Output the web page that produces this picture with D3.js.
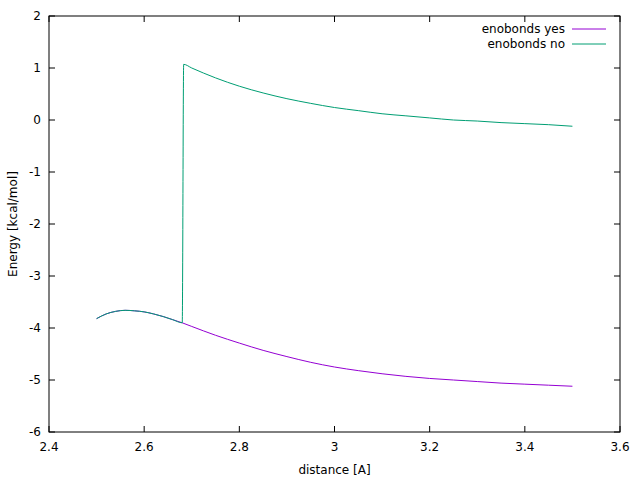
<!DOCTYPE html>
<html><head><meta charset="utf-8">
<script src="https://cdn.jsdelivr.net/npm/d3@7"></script>
<style>body{margin:0;background:#fff}text{font-family:"DejaVu Sans",sans-serif;font-size:12px;fill:#000}</style>
</head><body><svg id="c" width="640" height="480"></svg>
<script>
const xTicks=[2.4,2.6,2.8,3,3.2,3.4,3.6];
const yTicks=[-6,-5,-4,-3,-2,-1,0,1,2];
const seriesNames=["enobonds yes","enobonds no"];
const commonX=[2.50,2.52,2.54,2.56,2.58,2.60,2.62,2.64,2.66,2.68];
const commonY=[-3.82,-3.73,-3.68,-3.66,-3.67,-3.69,-3.73,-3.78,-3.84,-3.90];
const yesX=[2.70,2.75,2.80,2.85,2.90,2.95,3.00,3.05,3.10,3.15,3.20,3.25,3.30,3.35,3.40,3.45,3.50];
const yesY=[-3.97,-4.14,-4.29,-4.43,-4.55,-4.66,-4.75,-4.82,-4.88,-4.93,-4.97,-5.00,-5.03,-5.06,-5.08,-5.10,-5.12];
const noX=[2.683,2.70,2.75,2.80,2.85,2.90,2.95,3.00,3.05,3.10,3.15,3.20,3.25,3.30,3.35,3.40,3.45,3.50];
const noY=[1.07,1.00,0.81,0.65,0.52,0.41,0.32,0.24,0.18,0.12,0.08,0.04,0.00,-0.02,-0.05,-0.07,-0.09,-0.12];
const colors=["#9400d3","#009e73"];
const svg=d3.select("#c");
const L=49,R=620,T=16,B=432;
const x=d3.scaleLinear().domain([2.4,3.6]).range([L,R]);
const y=d3.scaleLinear().domain([-6,2]).range([B,T]);
const g=svg.append("g");
g.append("rect").attr("x",L).attr("y",T).attr("width",R-L).attr("height",B-T).attr("fill","none").attr("stroke","#000");
xTicks.forEach(v=>{
 g.append("line").attr("x1",x(v)).attr("x2",x(v)).attr("y1",B).attr("y2",B-6).attr("stroke","#000");
 g.append("line").attr("x1",x(v)).attr("x2",x(v)).attr("y1",T).attr("y2",T+6).attr("stroke","#000");
 g.append("text").attr("x",x(v)).attr("y",B+19).attr("text-anchor","middle").text(d3.format("")(v));
});
yTicks.forEach(v=>{
 g.append("line").attr("x1",L).attr("x2",L+6).attr("y1",y(v)).attr("y2",y(v)).attr("stroke","#000");
 g.append("line").attr("x1",R).attr("x2",R-6).attr("y1",y(v)).attr("y2",y(v)).attr("stroke","#000");
 g.append("text").attr("x",L-8).attr("y",y(v)+4).attr("text-anchor","end").text(v);
});
g.append("text").attr("x",(L+R)/2).attr("y",474).attr("text-anchor","middle").text("distance [A]");
g.append("text").attr("transform","translate(17,"+((T+B)/2)+") rotate(-90)").attr("text-anchor","middle").text("Energy [kcal/mol]");
const line=d3.line().x(d=>x(d[0])).y(d=>y(d[1]));
const yes=commonX.map((v,i)=>[v,commonY[i]]).concat(yesX.map((v,i)=>[v,yesY[i]]));
const no=commonX.map((v,i)=>[v,commonY[i]]).concat(noX.map((v,i)=>[v,noY[i]]));
[yes,no].forEach((d,i)=>g.append("path").attr("d",line.curve(d3.curveMonotoneX)(d)).attr("fill","none").attr("stroke",colors[i]).attr("stroke-width",1));
seriesNames.forEach((n,i)=>{
 const yy=29+i*15;
 g.append("text").attr("x",565).attr("y",yy+4).attr("text-anchor","end").text(n);
 g.append("line").attr("x1",572).attr("x2",606).attr("y1",yy).attr("y2",yy).attr("stroke",colors[i]);
});
</script></body></html>
